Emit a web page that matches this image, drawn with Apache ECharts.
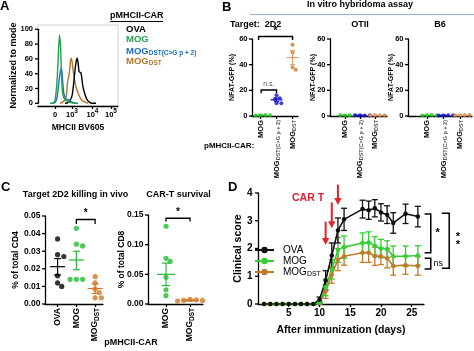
<!DOCTYPE html>
<html>
<head>
<meta charset="utf-8">
<script src="https://cdn.jsdelivr.net/npm/echarts@6/dist/echarts.min.js"></script>
<style>
  html, body { margin: 0; padding: 0; background: #fff; }
  #chart { width: 474px; height: 351px; }
</style>
</head>
<body>
<div id="chart"></div>
<script>
// ---------- A: MHCII histograms (x = display position on the biexponential axis) ----------
const histOVA = [[27,0],[30,1],[32,4],[34,10],[35.5,25],[37,45],[38,55],[39,61],[40,56],[41,43],[42,42],[43,41],[44,32],[45,22],[47,12],[49,5],[51,2],[54,0],[58,0]];
const histMOG = [[12,0],[15,0.5],[17,4],[19,30],[20.5,70],[21.5,92],[22.5,78],[23.5,40],[24.5,15],[26,7],[28,4],[30,2],[33,1],[36,0],[40,0]];
const histMUT = [[14,0],[17,1],[19,8],[21,30],[22.5,44],[23.5,47],[24.5,32],[26,12],[28,6],[30,5],[32,3],[35,1],[38,0]];
const histDST = [[22,0],[25,2],[27,5],[28.5,12],[29.5,28],[31,38],[32,50],[33,61],[34,57],[35,45],[36.5,32],[38,22],[40,14],[42,8],[44,4],[47,1.5],[50,0]];
const flowTickPos = [8, 17, 34, 54.5, 73];
const flowTickBase = ['−10', '0', '10', '10', '10'];
const flowTickExp = ['3', '', '3', '4', '5'];
const modeTicks = ['0', '20', '40', '60', '80', '100'];

// ---------- B: in vitro hybridoma assay, NFAT-GFP (%) ----------
const bCats = ['MOG', 'MOG_DST(C>G p + 2)', 'MOG_DST'];
const gfpTicks = ['0', '20', '40', '60'];
const b2d2Mog = [0.5, 0.8, 0.3, 0.6];
const b2d2Mut = [16.2, 13.8, 13.2, 10, 10];
const b2d2Dst = [55.5, 49.5, 38, 36];
const b2d2Mean = [0.5, 12.6, 45.5];
const b2d2Lo = [0.3, 11.2, 40];
const b2d2Hi = [0.7, 14, 51];
const botiiMog = [0.4, 0.6, 0.5, 0.3];
const botiiMut = [0.5, 0.4, 0.6, 0.3];
const botiiDst = [0.6, 0.4, 0.5, 0.3];
const bb6Mog = [0.5, 0.7, 0.4, 0.3];
const bb6Mut = [0.4, 0.5, 0.3, 0.6];
const bb6Dst = [0.6, 0.5, 0.4, 0.7];
const bFlatMean = [0.5, 0.5, 0.5];

// ---------- C: in vivo killing (% of CD4) and CAR-T survival (% of CD8) ----------
const c4Cats = ['OVA', 'MOG', 'MOG_DST'];
const c4Ticks = ['0.00', '0.01', '0.02', '0.03', '0.04', '0.05'];
const c4Ova = [0.037, 0.028, 0.027, 0.016, 0.012, 0.010];
const c4Mog = [0.043, 0.034, 0.033, 0.014, 0.014, 0.014];
const c4Dst = [0.0155, 0.012, 0.0085, 0.0065, 0.0035, 0.0035];
const c4Mean = [0.0212, 0.025, 0.0088];
const c4Lo = [0.0165, 0.0195, 0.006];
const c4Hi = [0.0258, 0.030, 0.0115];
const c8Cats = ['MOG', 'MOG_DST'];
const c8Ticks = ['0.00', '0.05', '0.10', '0.15'];
const c8Mog = [0.131, 0.077, 0.072, 0.045, 0.024, 0.014];
const c8Dst = [0.008, 0.007, 0.006, 0.006, 0.005, 0.004];
const c8Mean = [0.050, 0.006];
const c8Lo = [0.031, 0.005];
const c8Hi = [0.069, 0.007];

// ---------- D: clinical score ----------
const days = [1,2,3,4,5,6,7,8,9,10,11,12,13,14,17,18,19,20,21,22,24,26];
const dayTicks = [5, 10, 15, 20, 25];
const scoreTicks = ['0', '1', '2', '3', '4'];
const dOva = [0,0,0,0,0,0,0,0,0,0.15,0.85,1.75,2.65,3.05,3.42,3.38,3.45,3.3,3.22,2.92,3.25,3.15];
const dOvaErr = [0,0,0,0,0,0,0,0,0,0.1,0.35,0.45,0.45,0.4,0.32,0.33,0.31,0.31,0.32,0.37,0.35,0.37];
const dMog = [0,0,0,0,0,0,0,0,0,0.05,0.6,1.25,1.95,2.05,2.2,2.22,2.1,2.0,1.98,1.72,1.72,1.75];
const dMogErr = [0,0,0,0,0,0,0,0,0,0.05,0.3,0.35,0.45,0.4,0.36,0.38,0.33,0.33,0.3,0.37,0.37,0.35];
const dDst = [0,0,0,0,0,0,0,0,0,0.05,0.45,1.05,1.6,1.72,1.85,1.85,1.72,1.72,1.65,1.37,1.4,1.37];
const dDstErr = [0,0,0,0,0,0,0,0,0,0.05,0.25,0.3,0.4,0.32,0.35,0.35,0.33,0.3,0.35,0.33,0.33,0.33];
const carTDays = [11, 12, 13];
const carTTop = [2.97, 3.66, 4.3];
const carTTip = [2.13, 2.73, 3.57];

// ---------- layout ----------
const F = '"Liberation Sans", Arial, Helvetica, sans-serif';
const BLACK = '#000';
const RED = '#e8202a';
const grids = [
  { left: 38, top: 29.3, width: 80, height: 74 },  // A (frame drawn separately)
  { left: 252, top: 39, width: 46, height: 77 },   // B 2D2
  { left: 330, top: 39, width: 57, height: 77 },   // B OTII
  { left: 408, top: 39, width: 64, height: 77 },   // B B6
  { left: 45, top: 216, width: 58, height: 88 },   // C CD4
  { left: 148, top: 215, width: 55, height: 89 },  // C CD8
  { left: 258, top: 193, width: 166, height: 111 } // D
];
const xr = [[0, 80], [-0.53, 2.34], [-1.0, 2.8], [-1.15, 2.73], [-0.67, 2.42], [-0.75, 1.54], [0, 27]];
const yr = [[0, 100], [0, 60], [0, 60], [0, 60], [0, 0.05], [0, 0.15], [0, 4]];
const yStep = [20, 20, 20, 20, 0.01, 0.05, 1];

const AL = { color: BLACK, width: 1.3 };

// text width for placing left-aligned tick labels against the axis
const measureCtx = document.createElement('canvas').getContext('2d');
function textWidth(t, size) {
  measureCtx.font = 'bold ' + size + 'px "Liberation Sans", Arial, sans-serif';
  return measureCtx.measureText(t).width;
}

function richName(n) {
  const p = n.split('_');
  return p[1] ? '{m|' + p[0] + '}{s|' + p[1] + '}' : '{m|' + p[0] + '}';
}
function subRich(size, subSize, subColor, weight) {
  return {
    m: { fontSize: size, fontWeight: weight, fontFamily: F, color: BLACK, lineHeight: size + 2 },
    s: { fontSize: subSize, fontWeight: weight, fontFamily: F, color: subColor, lineHeight: subSize + 1, verticalAlign: 'bottom' }
  };
}
function labelOf(size, extra) {
  return Object.assign({
    show: true, fontFamily: F, fontWeight: 'bold', fontSize: size, color: BLACK, margin: 3
  }, extra);
}

function xAxisOf(gi, extra) {
  return Object.assign({
    type: 'value', gridIndex: gi, min: xr[gi][0], max: xr[gi][1],
    axisLine: { show: true, onZero: false, lineStyle: AL },
    axisTick: { show: true, length: 3, lineStyle: AL },
    splitLine: { show: false }
  }, extra);
}
function yAxisOf(gi) {
  return {
    type: 'value', gridIndex: gi, min: yr[gi][0], max: yr[gi][1], interval: yStep[gi],
    axisLine: { show: true, onZero: false, lineStyle: AL },
    axisTick: { show: false },
    axisLabel: { show: false },
    splitLine: { show: false }
  };
}

function catAxis(gi, cats, size, subSize, subColor) {
  return xAxisOf(gi, {
    axisTick: { show: true, length: 3, lineStyle: AL, customValues: cats.map((c, i) => i) },
    axisLabel: labelOf(size, {
      customValues: cats.map((c, i) => i), rotate: 90, margin: 4,
      formatter: v => richName(cats[Math.round(v)]),
      rich: subRich(size, subSize, subColor, 'bold')
    })
  });
}

// value-axis ticks and tick labels, placed through the axis scale
function yTicks(gi, labels, size, margin) {
  return {
    type: 'custom', xAxisIndex: gi, yAxisIndex: gi, z: 6, silent: true, clip: false,
    data: labels.map((l, i) => [xr[gi][0], yr[gi][0] + i * yStep[gi]]),
    renderItem: (p, api) => {
      const pt = api.coord([api.value(0), api.value(1)]);
      const t = labels[p.dataIndex];
      const w = textWidth(t, size);
      return { type: 'group', children: [
        { type: 'line', shape: { x1: pt[0] - 3, y1: pt[1], x2: pt[0], y2: pt[1] }, style: { stroke: BLACK, lineWidth: 1.3 } },
        { type: 'text', x: pt[0] - 3 - margin - w, y: pt[1],
          style: { text: t, fontFamily: F, fontWeight: 'bold', fontSize: size, fill: BLACK,
                   align: 'left', textAlign: 'left', verticalAlign: 'middle', textVerticalAlign: 'middle' } }
      ] };
    }
  };
}

// simple beeswarm: horizontal offsets so dots do not overlap
function swarm(vals, gi, r) {
  const g = grids[gi];
  const kx = g.width / (xr[gi][1] - xr[gi][0]);
  const ky = g.height / (yr[gi][1] - yr[gi][0]);
  const placed = [];
  return vals.map(v => {
    const py = v * ky;
    for (let k = 0; k < 40; k++) {
      const dx = (k % 2 ? 1 : -1) * Math.ceil(k / 2) * r * 0.8;
      if (placed.every(p => Math.hypot(p[0] - dx, p[1] - py) >= 2 * r * 0.95)) {
        placed.push([dx, py]);
        return dx / kx;
      }
    }
    return 0;
  });
}
function dots(gi, vals, cat, color, r) {
  const off = swarm(vals, gi, r);
  return {
    type: 'scatter', xAxisIndex: gi, yAxisIndex: gi, symbolSize: 2 * r, silent: true, z: 3,
    itemStyle: { color: color },
    data: vals.map((v, i) => [cat + off[i], v])
  };
}
function meanSem(gi, means, lo, hi, colors, halfW, capW, lw) {
  return {
    type: 'custom', xAxisIndex: gi, yAxisIndex: gi, z: 4, silent: true,
    data: means.map((m, i) => [i, m, lo[i], hi[i]]),
    renderItem: (p, api) => {
      const c = colors[p.dataIndex];
      const x = api.value(0);
      const pm = api.coord([x, api.value(1)]);
      const pl = api.coord([x, api.value(2)]);
      const ph = api.coord([x, api.value(3)]);
      const st = { stroke: c, lineWidth: lw };
      return { type: 'group', children: [
        { type: 'line', shape: { x1: pm[0] - halfW, y1: pm[1], x2: pm[0] + halfW, y2: pm[1] }, style: st },
        { type: 'line', shape: { x1: pl[0], y1: pl[1], x2: ph[0], y2: ph[1] }, style: st },
        { type: 'line', shape: { x1: pl[0] - capW, y1: pl[1], x2: pl[0] + capW, y2: pl[1] }, style: st },
        { type: 'line', shape: { x1: ph[0] - capW, y1: ph[1], x2: ph[0] + capW, y2: ph[1] }, style: st }
      ] };
    }
  };
}
function hBracket(gi, x1, x2, y, yDrop, label, ls) {
  return {
    type: 'custom', xAxisIndex: gi, yAxisIndex: gi, z: 5, silent: true, clip: false,
    data: [[x1, x2, y, yDrop]],
    renderItem: (p, api) => {
      const a = api.coord([api.value(0), api.value(2)]);
      const b = api.coord([api.value(1), api.value(2)]);
      const a2 = api.coord([api.value(0), api.value(3)]);
      const b2 = api.coord([api.value(1), api.value(3)]);
      return { type: 'group', children: [
        { type: 'polyline', shape: { points: [a2, a, b, b2] }, style: { stroke: ls.color, lineWidth: ls.width, fill: null } },
        { type: 'text', x: (a[0] + b[0]) / 2, y: a[1] - ls.gap,
          style: { text: label, fontFamily: F, fontSize: ls.size, fontWeight: ls.weight, fill: ls.textColor,
                   align: 'center', textAlign: 'center', verticalAlign: 'middle', textVerticalAlign: 'middle' } }
      ] };
    }
  };
}
function vBracket(gi, x, xTick, y1, y2, label, labelX, size) {
  return {
    type: 'custom', xAxisIndex: gi, yAxisIndex: gi, z: 5, silent: true, clip: false,
    data: [[x, xTick, y1, y2, labelX]],
    renderItem: (p, api) => {
      const pts = [[api.value(1), api.value(2)], [api.value(0), api.value(2)], [api.value(0), api.value(3)], [api.value(1), api.value(3)]].map(d => api.coord(d));
      const t = api.coord([api.value(4), (api.value(2) + api.value(3)) / 2]);
      return { type: 'group', children: [
        { type: 'polyline', shape: { points: pts }, style: { stroke: BLACK, lineWidth: 1.5, fill: null } },
        { type: 'text', x: t[0], y: t[1],
          style: { text: label, fontFamily: F, fontSize: size, fontWeight: label === 'ns' ? 'normal' : 'bold', fill: BLACK, lineHeight: 8,
                   align: 'center', textAlign: 'center', verticalAlign: 'middle', textVerticalAlign: 'middle' } }
      ] };
    }
  };
}

const series = [];

// A
[[histDST, '#b87426'], [histOVA, '#000'], [histMUT, '#1a6ec4'], [histMOG, '#1fa54a']].forEach((h, i) => {
  series.push({
    name: 'hist' + i, type: 'line', xAxisIndex: 0, yAxisIndex: 0, data: h[0], showSymbol: false,
    smooth: 0.3, silent: true, lineStyle: { color: h[1], width: 1.4 }
  });
});
series.push(yTicks(0, modeTicks, 7.5, 2));

// B
const bCol = ['#22c022', '#1414d0', '#c8782a'];
const bErr = ['#22c022', '#1414d0', '#e0a070'];
[[b2d2Mog, b2d2Mut, b2d2Dst], [botiiMog, botiiMut, botiiDst], [bb6Mog, bb6Mut, bb6Dst]].forEach((grp, k) => {
  const gi = k + 1;
  grp.forEach((vals, c) => series.push(dots(gi, vals, c, bCol[c], 2)));
  if (k === 0) series.push(meanSem(gi, b2d2Mean, b2d2Lo, b2d2Hi, bErr, 6, 2.5, 1.2));
  else series.push(meanSem(gi, bFlatMean, bFlatMean, bFlatMean, bErr, 6, 2.5, 1.2));
  series.push(yTicks(gi, gfpTicks, 7.5, 1.5));
});
series.push(hBracket(1, -0.12, 2.0, 62, 59.3, '*', { color: BLACK, width: 1.4, gap: 5, size: 10, weight: 'bold', textColor: BLACK }));
series.push(hBracket(1, 0.04, 1.0, 20.3, 17.8, 'n.s.', { color: BLACK, width: 1.4, gap: 6, size: 7, weight: 'normal', textColor: '#555' }));

// C
const cCol = ['#000', '#22bb33', '#d2782a'];
[c4Ova, c4Mog, c4Dst].forEach((vals, c) => series.push(dots(4, vals, c, cCol[c], 2.6)));
series.push(meanSem(4, c4Mean, c4Lo, c4Hi, cCol, 7.5, 3.5, 1.2));
series.push(hBracket(4, 1.0, 2.0, 0.048, 0.0455, '*', { color: BLACK, width: 1.3, gap: 6, size: 10, weight: 'bold', textColor: BLACK }));
series.push(yTicks(4, c4Ticks, 8.5, 1.5));
[c8Mog, c8Dst].forEach((vals, c) => series.push(dots(5, vals, c, cCol[c + 1], 2.6)));
series.push(meanSem(5, c8Mean, c8Lo, c8Hi, [cCol[1], cCol[2]], 9, 4, 1.2));
series.push(hBracket(5, 0, 1, 0.1445, 0.139, '*', { color: BLACK, width: 1.3, gap: 6, size: 10, weight: 'bold', textColor: BLACK }));
series.push(yTicks(5, c8Ticks, 8.5, 1.5));

// D
const dSets = [['MOG_DST', dDst, dDstErr, '#c27a2a'], ['MOG', dMog, dMogErr, '#33d133'], ['OVA', dOva, dOvaErr, '#111']];
dSets.forEach(s => {
  series.push({
    name: s[0] + ' err', type: 'custom', xAxisIndex: 6, yAxisIndex: 6, z: 2, silent: true,
    data: days.map((d, i) => [d, s[1][i], s[2][i]]),
    renderItem: (p, api) => {
      const e = api.value(2);
      if (!e) return null;
      const x = api.value(0), m = api.value(1);
      const a = api.coord([x, m - e]), b = api.coord([x, m + e]);
      const st = { stroke: s[3], lineWidth: 1.3 };
      return { type: 'group', children: [
        { type: 'line', shape: { x1: a[0], y1: a[1], x2: b[0], y2: b[1] }, style: st },
        { type: 'line', shape: { x1: a[0] - 3, y1: a[1], x2: a[0] + 3, y2: a[1] }, style: st },
        { type: 'line', shape: { x1: b[0] - 3, y1: b[1], x2: b[0] + 3, y2: b[1] }, style: st }
      ] };
    }
  });
  series.push({
    name: s[0], type: 'line', xAxisIndex: 6, yAxisIndex: 6, z: 3, silent: true,
    data: days.map((d, i) => [d, s[1][i]]),
    symbol: 'circle', symbolSize: 4.5, showSymbol: true,
    itemStyle: { color: s[3] }, lineStyle: { color: s[3], width: 1.6 }
  });
});
series.push(yTicks(6, scoreTicks, 10, 2.5));
series.push({
  type: 'custom', xAxisIndex: 6, yAxisIndex: 6, z: 6, silent: true, clip: false,
  data: carTDays.map((d, i) => [d, carTTop[i], carTTip[i]]),
  renderItem: (p, api) => {
    const p1 = api.coord([api.value(0), api.value(1)]);
    const p2 = api.coord([api.value(0), api.value(2)]);
    const hl = 7, hw = 3.6;
    return { type: 'group', children: [
      { type: 'line', shape: { x1: p1[0], y1: p1[1], x2: p2[0], y2: p2[1] - hl + 1 }, style: { stroke: RED, lineWidth: 2 } },
      { type: 'polygon', shape: { points: [[p2[0] - hw, p2[1] - hl], [p2[0] + hw, p2[1] - hl], [p2[0], p2[1]]] }, style: { fill: RED } }
    ] };
  }
});
series.push(vBracket(6, 28.1, 27.1, 3.24, 1.85, '*', 29.2, 11));
series.push(vBracket(6, 28.1, 27.1, 1.65, 1.26, 'ns', 29.3, 9));
series.push(vBracket(6, 31.1, 29.9, 3.27, 1.29, '*\n*', 32.5, 11));

// ---------- axes ----------
const xAxes = [
  xAxisOf(0, {
    name: 'MHCII BV605', nameLocation: 'middle', nameGap: 17, offset: 2.7,
    nameTextStyle: { fontFamily: F, fontWeight: 'bold', fontSize: 8.5, color: BLACK },
    axisTick: { show: true, length: 3, lineStyle: AL, customValues: flowTickPos },
    axisLabel: labelOf(8, {
      customValues: flowTickPos, margin: 2,
      formatter: v => {
        const i = flowTickPos.indexOf(v);
        return '{b|' + flowTickBase[i] + '}' + (flowTickExp[i] ? '{p|' + flowTickExp[i] + '}' : '');
      },
      rich: {
        b: { fontSize: 7.5, fontWeight: 'bold', fontFamily: F, color: BLACK, lineHeight: 11, verticalAlign: 'bottom' },
        p: { fontSize: 6.5, fontWeight: 'bold', fontFamily: F, color: BLACK, lineHeight: 7, verticalAlign: 'top' }
      }
    })
  }),
  catAxis(1, bCats, 7.5, 5.5, '#555'),
  catAxis(2, bCats, 7.5, 5.5, '#555'),
  catAxis(3, bCats, 7.5, 5.5, '#555'),
  catAxis(4, c4Cats, 8.5, 6.5, BLACK),
  catAxis(5, c8Cats, 8.5, 6.5, BLACK),
  xAxisOf(6, {
    name: 'After immunization (days)', nameLocation: 'middle', nameGap: 21,
    nameTextStyle: { fontFamily: F, fontWeight: 'bold', fontSize: 10.5, color: BLACK },
    axisTick: { show: true, length: 3, lineStyle: AL, customValues: dayTicks },
    axisLabel: labelOf(10, { customValues: dayTicks, margin: 4 })
  })
];
const yAxes = grids.map((g, gi) => yAxisOf(gi));

// ---------- free text ----------
function txt(x, y, text, o) {
  return { type: 'text', x: x, y: y, z: 10, silent: true,
    style: Object.assign({ text: text, fontFamily: F, fontSize: 9, fontWeight: 'bold', fill: BLACK,
      align: 'left', textAlign: 'left', verticalAlign: 'middle', textVerticalAlign: 'middle' }, o) };
}
function ctr(o) { return Object.assign({ align: 'center', textAlign: 'center' }, o); }
function vtxt(x, y, text, size) {
  const t = txt(x, y, text, ctr({ fontSize: size }));
  t.rotation = Math.PI / 2;
  return t;
}
const legRich = (c) => ({
  m: { fontSize: 9.5, fontWeight: 'bold', fontFamily: F, fill: c, color: c, lineHeight: 11 },
  s: { fontSize: 6.5, fontWeight: 'bold', fontFamily: F, fill: c, color: c, lineHeight: 7, verticalAlign: 'bottom' }
});
const graphic = [
  // frame of the histogram panel
  { type: 'rect', z: 0, silent: true, shape: { x: 38, y: 25, width: 80, height: 81 }, style: { stroke: '#c4c4c4', lineWidth: 0.8, fill: 'none' } },
  txt(0, 6, 'A', { fontSize: 13 }),
  vtxt(14, 65.5, 'Normalized to mode', 9),
  txt(110, 16, 'pMHCII-CAR', { fontSize: 9 }),
  { type: 'line', z: 10, silent: true, shape: { x1: 110, y1: 21.5, x2: 163, y2: 21.5 }, style: { stroke: BLACK, lineWidth: 1 } },
  txt(126, 29, 'OVA', { fontSize: 9.5, fill: BLACK }),
  txt(126, 39.5, 'MOG', { fontSize: 9.5, fill: '#1fa54a' }),
  txt(126, 51, richName('MOG_DST(C>G p + 2)'), { fill: '#1a6ec4', rich: legRich('#1a6ec4') }),
  txt(126, 61.5, richName('MOG_DST'), { fill: '#b87426', rich: legRich('#b87426') }),

  txt(222, 7, 'B', { fontSize: 13 }),
  txt(360, 5, 'In vitro hybridoma assay', ctr({ fontSize: 9 })),
  { type: 'line', z: 10, silent: true, shape: { x1: 250, y1: 14.5, x2: 474, y2: 14.5 }, style: { stroke: '#94acd8', lineWidth: 1 } },
  txt(230, 25, 'Target:  2D2', { fontSize: 9 }),
  txt(360, 25, 'OTII', ctr({ fontSize: 9 })),
  txt(440, 25, 'B6', ctr({ fontSize: 9 })),
  vtxt(232, 77.5, 'NFAT-GFP (%)', 7),
  vtxt(313, 77.5, 'NFAT-GFP (%)', 7),
  vtxt(391, 77.5, 'NFAT-GFP (%)', 7),
  txt(204, 146, 'pMHCII-CAR:', { fontSize: 8 }),

  txt(1, 187, 'C', { fontSize: 13 }),
  txt(75.5, 195, 'Target 2D2 killing in vivo', ctr({ fontSize: 9 })),
  txt(178.5, 195, 'CAR-T survival', ctr({ fontSize: 9 })),
  vtxt(15.5, 260, '% of total CD4', 8.5),
  vtxt(122, 259.5, '% of total CD8', 8.5),
  txt(131, 343, 'pMHCII-CAR', ctr({ fontSize: 9 })),

  txt(228, 187, 'D', { fontSize: 13 }),
  vtxt(238.5, 248.5, 'Clinical score', 10.5),
  txt(292, 198, 'CAR T', { fontSize: 10.5, fill: RED })
];

const chart = echarts.init(document.getElementById('chart'));
chart.setOption({
  animation: false,
  backgroundColor: '#fff',
  grid: grids,
  xAxis: xAxes,
  yAxis: yAxes,
  legend: [{
    data: ['OVA', 'MOG', 'MOG_DST'], left: 249, top: 240, orient: 'vertical',
    itemWidth: 19, itemHeight: 8, itemGap: 1, selectedMode: false,
    formatter: n => n === 'MOG_DST' ? '{m|MOG}{s|DST}' : '{m|' + n + '}',
    textStyle: {
      fontFamily: F, fontSize: 10, color: BLACK, padding: [0, 0, 0, 4],
      rich: {
        m: { fontSize: 10, fontFamily: F, color: BLACK, lineHeight: 11 },
        s: { fontSize: 7, fontFamily: F, color: BLACK, lineHeight: 7, verticalAlign: 'bottom' }
      }
    }
  }],
  graphic: graphic,
  series: series
});
</script>
</body>
</html>
